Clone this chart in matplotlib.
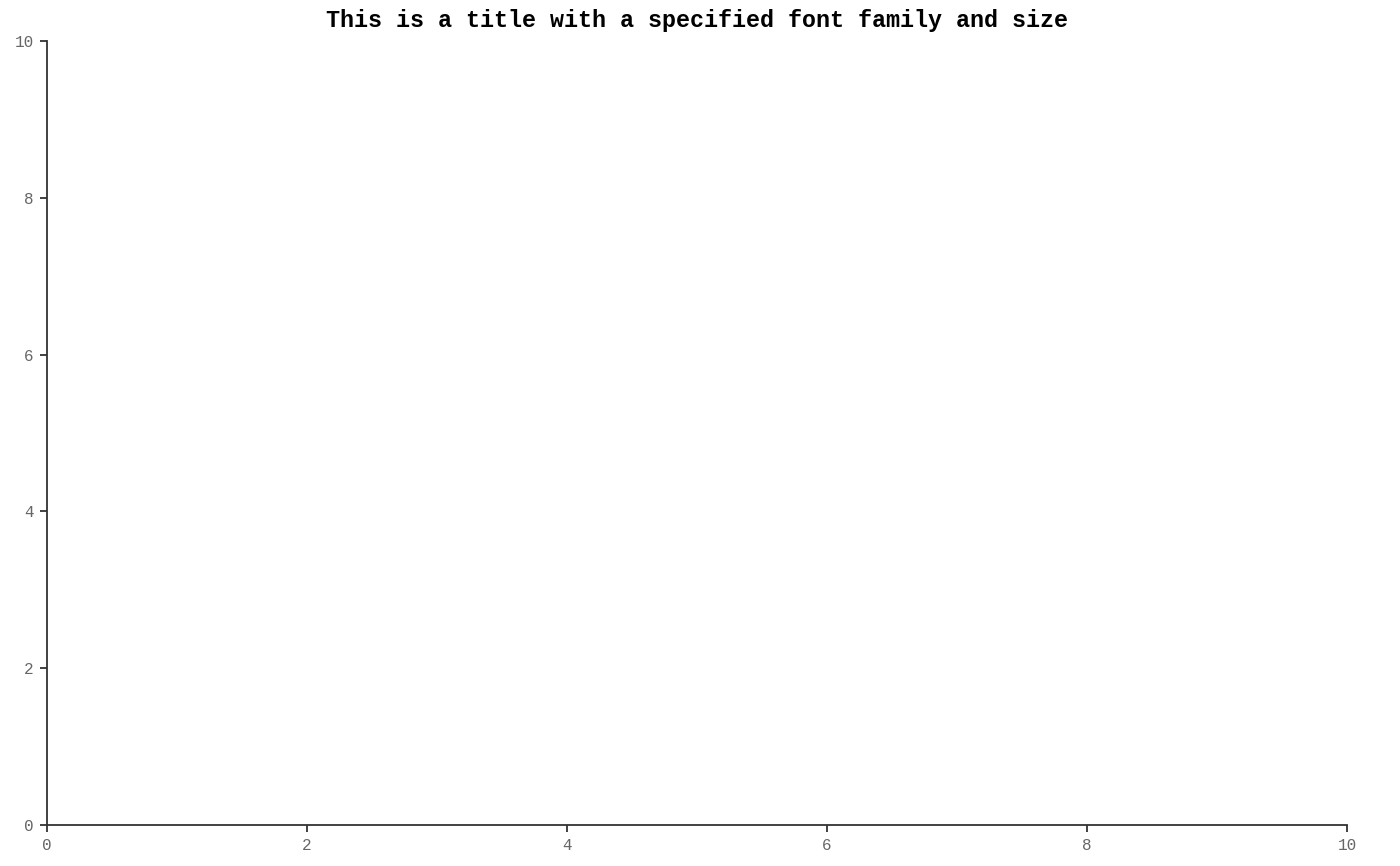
import matplotlib
matplotlib.use("Agg")
import matplotlib.pyplot as plt

title = "This is a title with a specified font family and size"
x_range = [0, 10]
y_range = [0, 10]
ticks = [0, 2, 4, 6, 8, 10]

fig = plt.figure(figsize=(14, 8.66), dpi=100)
ax = fig.add_axes([47 / 1400, 1 - 825 / 866, 1300 / 1400, 784 / 866])

ax.set_xlim(x_range)
ax.set_ylim(y_range)
ax.set_xticks(ticks)
ax.set_yticks(ticks)

for side in ["top", "right"]:
    ax.spines[side].set_visible(False)
for side in ["left", "bottom"]:
    ax.spines[side].set_color("#333333")
    ax.spines[side].set_linewidth(1.3)

ax.tick_params(direction="out", length=5, width=1.3, color="#333333",
               labelcolor="#666666", labelsize=11.5, pad=4.5)
for lab in ax.get_xticklabels() + ax.get_yticklabels():
    lab.set_family("Liberation Mono")

fig.text(697 / 1400, 1 - 20 / 866, title, ha="center", va="center",
         family="Liberation Mono", fontweight="bold", fontsize=16.85)

fig.savefig("out.png", dpi=100)
